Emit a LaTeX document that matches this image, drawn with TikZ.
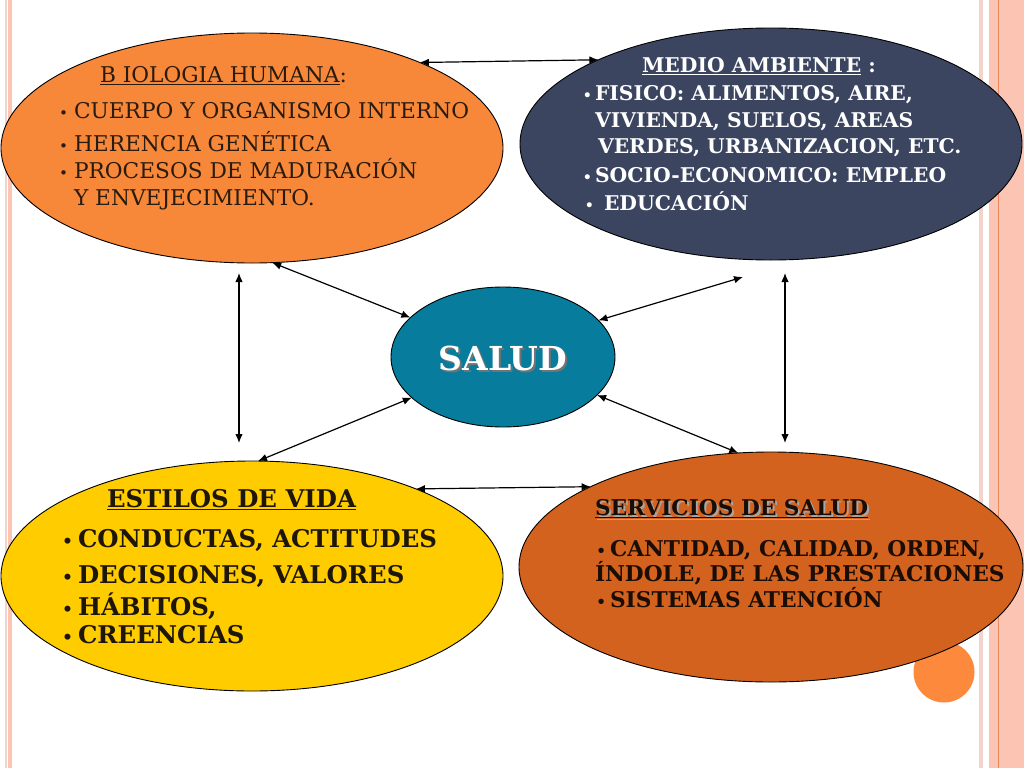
\documentclass[tikz,border=0pt]{standalone}
\usepackage{fontspec}
\setmainfont{DejaVu Serif}
\usetikzlibrary{shapes.geometric,arrows.meta}
\definecolor{bioC}{HTML}{F7883A}
\definecolor{medC}{HTML}{3B4560}
\definecolor{salC}{HTML}{077C9C}
\definecolor{estC}{HTML}{FFCC00}
\definecolor{serC}{HTML}{D3621E}
\definecolor{dotC}{HTML}{FD8A3C}
\definecolor{paleC}{HTML}{F3D4CA}
\definecolor{salmC}{HTML}{FCC5B3}
\definecolor{lineC}{HTML}{E98A5E}
\definecolor{txtB}{HTML}{2A1B0E}
\definecolor{txtE}{HTML}{1E1608}
\definecolor{txtS}{HTML}{1A0D05}
\newcommand\mybl[1]{\llap{\scalebox{.7}{•}\hspace{#1pt}}}
\newcommand\myul[1]{\setbox0\hbox{#1}\rlap{\raisebox{-3pt}{\rule{\wd0}{1.1pt}}}\box0}
\tikzset{
  blob/.style={ellipse, draw=black, line width=0.9pt, inner sep=0pt, outer sep=0pt},
  biarr/.style={{Latex[length=9pt,width=7.5pt]}-{Latex[length=9pt,width=7.5pt]}, line width=1.2pt},
  lbl/.style={anchor=base west, inner sep=0pt, outer sep=0pt},
  tb/.style={lbl, text=txtB, font=\fontsize{21.7}{26}\selectfont},
  tm/.style={lbl, text=white, font=\bfseries\fontsize{20.3}{24}\selectfont},
  te/.style={lbl, text=txtE, font=\bfseries\fontsize{24.4}{28}\selectfont},
  ts/.style={lbl, text=txtS, font=\bfseries\fontsize{21.7}{26}\selectfont},
}
\begin{document}
\begin{tikzpicture}[x=1pt,y=-1pt]
\useasboundingbox (0,0) rectangle (1024,768);
\fill[white] (0,0) rectangle (1024,768);
% side decorations
\fill[paleC] (5,0) rectangle (7.3,768);
\fill[salmC] (8,0) rectangle (12,768);
\fill[paleC] (978.7,0) rectangle (982.7,768);
\fill[salmC] (989.3,0) rectangle (1024,768);
\draw[lineC, line width=0.8pt] (998.5,0) -- (998.5,768);
% decorative circle
\fill[dotC] (944,672) circle (30.5);
% ellipses
\node[blob, fill=bioC, minimum width=502pt, minimum height=230pt] (bio) at (252,148) {};
\node[blob, fill=medC, minimum width=502pt, minimum height=232pt] (med) at (771,144) {};
\node[blob, fill=salC, minimum width=224pt, minimum height=140pt] (sal) at (503,357) {};
\node[blob, fill=estC, minimum width=502pt, minimum height=230pt] (est) at (252,576) {};
\node[blob, fill=serC, minimum width=504pt, minimum height=230pt] (ser) at (771,567) {};
% free ends
\coordinate (lx) at (239,0);
\coordinate (rx) at (785,0);
\coordinate (mfree) at (743,277);
% connectors
\draw[biarr] (bio.27.25) -- (med.154.77);
\draw[biarr] (est.28.37) -- (ser.156.19);
\draw[biarr, shorten <=10pt, shorten >=18pt] (lx |- bio.south) -- (lx |- est.north);
\draw[biarr, shorten <=13pt, shorten >=9pt] (rx |- med.south) -- (rx |- ser.north);
\draw[biarr] (bio.-80.2) -- (sal.157.6);
\draw[biarr] (est.87.6) -- (sal.-156);
\draw[biarr] (sal.21.3) -- (mfree);
\draw[biarr] (sal.-22.8) -- (ser.106.9);
% BIOLOGIA
\node[tb] (b0) at (100,82) {\myul{B IOLOGIA HUMANA}:};
\node[tb] (b1) at (74,118) {\mybl{6}CUERPO Y ORGANISMO INTERNO};
\node[tb] (b2) at (74,151) {\mybl{6}HERENCIA GENÉTICA};
\node[tb] (b3) at (74,178) {\mybl{6}PROCESOS DE MADURACIÓN};
\node[tb] (b4) at (74,205) {Y ENVEJECIMIENTO.};
% MEDIO AMBIENTE
\node[tm] (m0) at (642,72) {\myul{MEDIO AMBIENTE}\ :};
\node[tm] (m1) at (595,100) {\mybl{3}FISICO: ALIMENTOS, AIRE,};
\node[tm] (m2) at (595,127) {VIVIENDA, SUELOS, AREAS};
\node[tm] (m3) at (598,153) {VERDES, URBANIZACION, ETC.};
\node[tm] (m4) at (595,182) {\mybl{3}SOCIO-ECONOMICO: EMPLEO};
\node[tm] (m5) at (604,210) {\mybl{10}EDUCACIÓN};
% SALUD
\node[lbl, anchor=base, text=black!55, font=\bfseries\fontsize{33}{38}\selectfont] (s0s) at (505,372) {SALUD};
\node[lbl, anchor=base, text=white, font=\bfseries\fontsize{33}{38}\selectfont] (s0) at (503,370) {SALUD};
% ESTILOS
\node[te] (e0) at (107,507) {\myul{ESTILOS DE VIDA}};
\node[te] (e1) at (78,547) {\mybl{5}CONDUCTAS, ACTITUDES};
\node[te] (e2) at (78,583) {\mybl{5}DECISIONES, VALORES};
\node[te] (e3) at (78,615) {\mybl{5}HÁBITOS,};
\node[te] (e4) at (78,643) {\mybl{5}CREENCIAS};
% SERVICIOS
\node[ts, text=black!35] (v0s) at (597,517) {\myul{SERVICIOS DE SALUD}};
\node[ts] (v0) at (595,515) {\myul{SERVICIOS DE SALUD}};
\node[ts] (v1) at (610,556) {\mybl{4}CANTIDAD, CALIDAD, ORDEN,};
\node[ts] (v2) at (595,581) {ÍNDOLE, DE LAS PRESTACIONES};
\node[ts] (v3) at (610,607) {\mybl{4}SISTEMAS ATENCIÓN};
\end{tikzpicture}
\end{document}
